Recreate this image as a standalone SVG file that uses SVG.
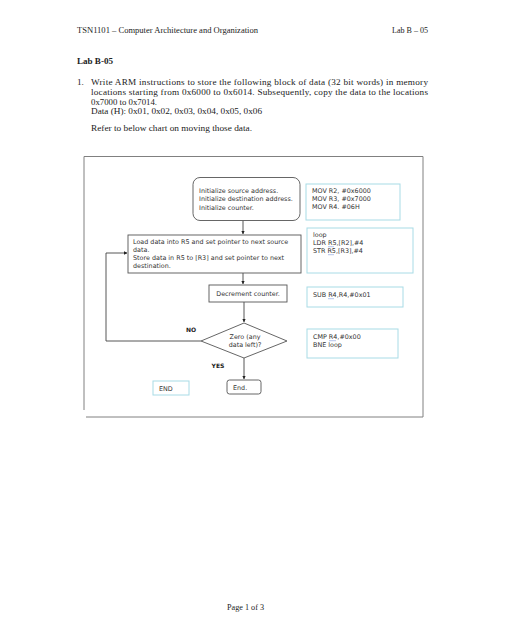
<svg xmlns="http://www.w3.org/2000/svg" width="505" height="640" viewBox="0 0 505 640">
<defs>
<marker id="ah" viewBox="0 0 6 6" refX="5.5" refY="3" markerWidth="4" markerHeight="4" orient="auto"><path d="M0,0 L6,3 L0,6 z" fill="#222"/></marker>
<style>
.doc{font-family:"Liberation Serif","Times New Roman",serif;font-size:9.2px;fill:#222}
.b{font-weight:bold}
.fc{font-family:"DejaVu Sans",Verdana,sans-serif;font-size:6.4px;fill:#333}
.fcb{font-family:"DejaVu Sans",Verdana,sans-serif;font-size:6px;fill:#222;font-weight:bold}
.node{fill:#fff;stroke:#555;stroke-width:0.9}
.code{fill:#fff;stroke:#a8dbe6;stroke-width:1}
.con{fill:none;stroke:#444;stroke-width:0.9}
.sq{fill:none;stroke:#6a8ad8;stroke-width:0.5}
</style>
</defs>
<rect width="505" height="640" fill="#fff"/>
<g id="page-text">
<text class="doc" x="77" y="32.5" textLength="181" lengthAdjust="spacingAndGlyphs">TSN1101 – Computer Architecture and Organization</text>
<text class="doc" x="392" y="32.5" textLength="36" lengthAdjust="spacingAndGlyphs">Lab B – 05</text>
<text class="doc b" x="77" y="63.5" font-size="9.8" textLength="36" lengthAdjust="spacingAndGlyphs">Lab B-05</text>
<text class="doc" x="77" y="85">1.</text>
<text class="doc" x="91" y="85" textLength="337" lengthAdjust="spacing">Write ARM instructions to store the following block of data (32 bit words) in memory</text>
<text class="doc" x="91" y="95.3" textLength="337" lengthAdjust="spacing">locations starting from 0x6000 to 0x6014. Subsequently, copy the data to the locations</text>
<text class="doc" x="91" y="104.8" textLength="66" lengthAdjust="spacingAndGlyphs">0x7000 to 0x7014.</text>
<text class="doc" x="91" y="113.8" textLength="171" lengthAdjust="spacingAndGlyphs">Data (H): 0x01, 0x02, 0x03, 0x04, 0x05, 0x06</text>
<text class="doc" x="91" y="130.5" textLength="161" lengthAdjust="spacingAndGlyphs">Refer to below chart on moving those data.</text>
<text class="doc" x="227" y="610" textLength="37" lengthAdjust="spacingAndGlyphs">Page 1 of 3</text>
</g>
<g id="frame">
<path d="M84,410 V156.5 H423 V417" fill="none" stroke="#808080" stroke-width="1"/>
<path d="M86,417 H423" fill="none" stroke="#808080" stroke-width="1"/>
</g>
<g id="connectors">
<path class="con" d="M243,220.5 V234" marker-end="url(#ah)"/>
<path class="con" d="M243,273 V284" marker-end="url(#ah)"/>
<path class="con" d="M244,302 V322" marker-end="url(#ah)"/>
<path class="con" d="M201,341 H106 V253 H127" marker-end="url(#ah)"/>
<path class="con" d="M244,358 V379" marker-end="url(#ah)"/>
</g>
<g id="init">
<rect class="node" x="193" y="177.5" width="107" height="43" rx="7"/>
<text class="fc" x="199" y="193">Initialize source address.</text>
<text class="fc" x="199" y="201.3">Initialize destination address.</text>
<text class="fc" x="199" y="209.6">Initialize counter.</text>
</g>
<g id="mov-code">
<rect class="code" x="306" y="184" width="94" height="36"/>
<text class="fc" x="312" y="193">MOV R2, #0x6000</text>
<text class="fc" x="312" y="201">MOV R3, #0x7000</text>
<text class="fc" x="312" y="209">MOV R4. #06H</text>
</g>
<g id="load">
<rect class="node" x="128" y="235" width="173" height="38"/>
<text class="fc" x="133" y="244">Load data into R5 and set pointer to next source</text>
<text class="fc" x="133" y="251.5">data.</text>
<text class="fc" x="133" y="259.5">Store data in R5 to [R3] and set pointer to next</text>
<text class="fc" x="133" y="267.5">destination.</text>
</g>
<g id="loop-code">
<rect class="code" x="307" y="228" width="106" height="45"/>
<text class="fc" x="313" y="237">loop</text>
<text class="fc" x="313" y="245">LDR R5,[R2],#4</text>
<text class="fc" x="313" y="253">STR R5,[R3],#4</text>
<path class="sq" d="M328,246.3 l1,0.8 l1,-0.8 l1,0.8 l1,-0.8 l1,0.8 l1,-0.8"/>
<path class="sq" d="M328,254.3 l1,0.8 l1,-0.8 l1,0.8 l1,-0.8 l1,0.8 l1,-0.8"/>
</g>
<g id="decrement">
<rect class="node" x="209" y="285" width="78" height="17"/>
<text class="fc" x="248" y="296" text-anchor="middle">Decrement counter.</text>
</g>
<g id="sub-code">
<rect class="code" x="307" y="287" width="96" height="20"/>
<text class="fc" x="313" y="297">SUB R4,R4,#0x01</text>
<path class="sq" d="M328,298.3 l1,0.8 l1,-0.8 l1,0.8 l1,-0.8 l1,0.8 l1,-0.8"/>
</g>
<g id="decision">
<path class="node" d="M244,323 L287,341 L244,358 L201,341 Z"/>
<text class="fc" x="245" y="339" text-anchor="middle">Zero (any</text>
<text class="fc" x="245" y="347" text-anchor="middle">data left)?</text>
</g>
<g id="cmp-code">
<rect class="code" x="307" y="329" width="91" height="29"/>
<text class="fc" x="313" y="339">CMP R4,#0x00</text>
<text class="fc" x="313" y="347">BNE loop</text>
<path class="sq" d="M329,340.3 l1,0.8 l1,-0.8 l1,0.8 l1,-0.8 l1,0.8 l1,-0.8 l1,0.8"/>
</g>
<g id="labels">
<text class="fcb" x="191" y="332" text-anchor="middle">NO</text>
<text class="fcb" x="218" y="368" text-anchor="middle">YES</text>
</g>
<g id="end">
<rect class="node" x="227" y="380" width="34" height="14" rx="2.5"/>
<text class="fc" x="233" y="389.5">End.</text>
</g>
<g id="end-code">
<rect class="code" x="153" y="381" width="36" height="14"/>
<text class="fc" x="159" y="390.5">END</text>
</g>
</svg>
